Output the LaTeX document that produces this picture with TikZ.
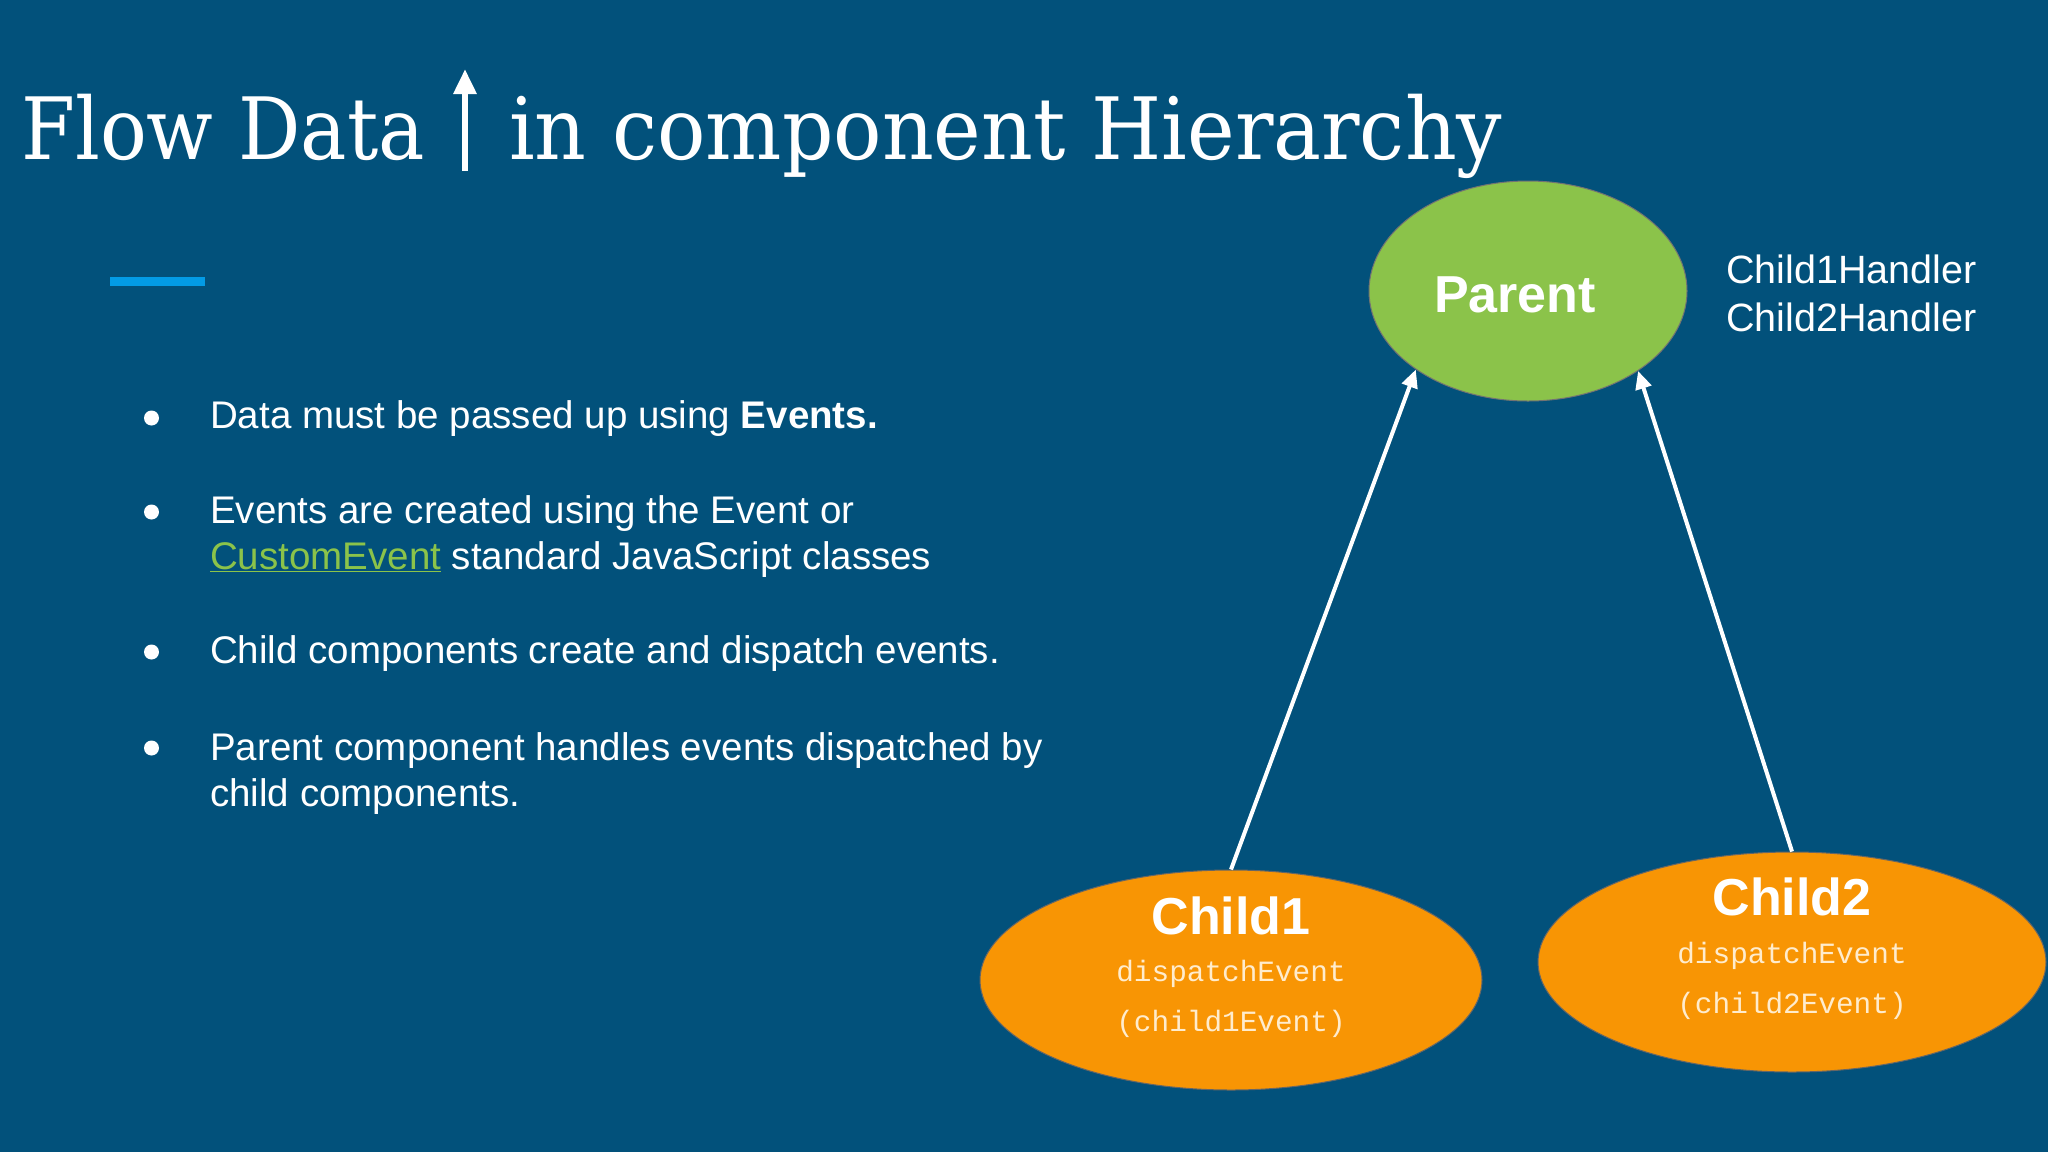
\documentclass[tikz,border=0pt]{standalone}
\usepackage{fontspec}
\setmainfont{Liberation Sans}
\newfontfamily\titlefont{DejaVu Serif}
\newfontfamily\codefont{Liberation Mono}
\usetikzlibrary{arrows.meta,shapes.geometric}
\definecolor{bgblue}{RGB}{2,81,123}
\definecolor{pgreen}{RGB}{139,195,74}
\definecolor{corange}{RGB}{248,149,4}
\definecolor{accent}{RGB}{3,155,229}
\definecolor{codecol}{RGB}{255,236,205}
\tikzset{
  titletext/.style={text=white,inner sep=0pt,font=\titlefont\fontsize{86}{100}\selectfont},
  bodytext/.style={text=white,inner sep=0pt,align=left,font=\fontsize{38.5}{45.7}\selectfont},
  bulletdot/.style={circle,fill=white,inner sep=0pt,minimum size=15pt},
  parentnode/.style={ellipse,fill=pgreen,draw=black!55,line width=1pt,inner sep=0pt,minimum width=318pt,minimum height=220pt},
  childnode/.style={ellipse,fill=corange,draw=black!60,line width=1pt,inner sep=0pt,minimum height=220pt},
  boldlabel/.style={text=white,inner sep=0pt,font=\bfseries\fontsize{52}{60}\selectfont},
  codetext/.style={text=codecol,inner sep=0pt,font=\codefont\fontsize{29.4}{35}\selectfont},
  flowarrow/.style={draw=white,line width=4pt,-{Triangle[length=18pt,width=16pt]}},
  titlearrow/.style={draw=white,line width=6pt,-{Triangle[length=25pt,width=22pt]}}
}
\begin{document}
\begin{tikzpicture}[x=1pt,y=-1pt]
\fill[bgblue] (0,0) rectangle (2048,1152);
\useasboundingbox (0,0) rectangle (2048,1152);
% title
\node[titletext,anchor=base west] (t1) at (21,159) {\scalebox{0.905}[1]{Flow Data}};
\node[titletext,anchor=base west] (t2) at (509,159) {\scalebox{0.936}[1]{in component Hierarchy}};
\coordinate (ta0) at (465,171);
\coordinate (ta1) at (465,69);
\draw[titlearrow] (ta0) -- (ta1);
% accent line
\coordinate (al0) at (110,281);
\coordinate (al1) at (205,281);
\draw[accent,line width=9pt] (al0) -- (al1);
% bullets
\node[bulletdot] (b1) at (151.5,418) {};
\node[bulletdot] (b2) at (151.5,512) {};
\node[bulletdot] (b3) at (151.5,652) {};
\node[bulletdot] (b4) at (151.5,748) {};
\node[bodytext,anchor=base west] (l1) at (210,428) {Data must be passed up using \textbf{Events.}};
\node[bodytext,anchor=base west] (l2) at (210,569) {Events are created using the Event or\\\textcolor{pgreen}{\underline{CustomEvent}} standard JavaScript classes};
\node[bodytext,anchor=base west] (l3) at (210,663) {Child components create and dispatch events.};
\node[bodytext,anchor=base west] (l4) at (210,806) {Parent component handles events dispatched by\\child components.};
% nodes
\node[parentnode] (parent) at (1528,291) {};
\node[boldlabel,anchor=base] (ptxt) at (1515,312) {Parent};
\node[bodytext,anchor=base west,font=\fontsize{39.5}{47.7}\selectfont] (handlers) at (1726,331) {Child1Handler\\Child2Handler};
\node[childnode,minimum width=502pt] (child1) at (1231,980) {};
\node[childnode,minimum width=508pt] (child2) at (1792,962) {};
\node[boldlabel,anchor=base] (c1t) at (1231,934) {Child1};
\node[codetext,anchor=base] (c1a) at (1231,981) {dispatchEvent};
\node[codetext,anchor=base] (c1b) at (1231,1031) {(child1Event)};
\node[boldlabel,anchor=base] (c2t) at (1792,915) {Child2};
\node[codetext,anchor=base] (c2a) at (1792,963) {dispatchEvent};
\node[codetext,anchor=base] (c2b) at (1792,1013) {(child2Event)};
% arrows
\draw[flowarrow] (child1.north) -- (parent.215.8);
\draw[flowarrow] (child2.north) -- (parent.324.5);
\end{tikzpicture}
\end{document}
